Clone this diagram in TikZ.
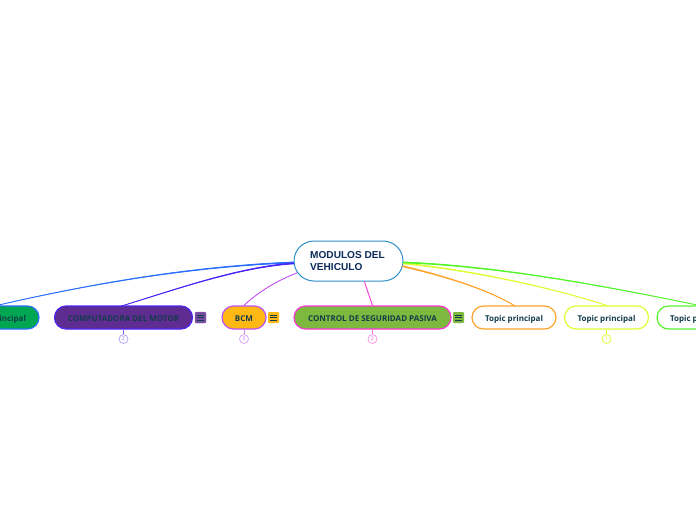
\documentclass[tikz,border=0pt]{standalone}
\usepackage{fontspec}
\setmainfont{Open Sans}
\newfontfamily\hubfont{Liberation Sans}
\usetikzlibrary{shapes.misc,calc}
\definecolor{txt}{HTML}{123C4A}
\definecolor{hubtxt}{HTML}{0B2A5B}
\definecolor{hubline}{HTML}{2E8FCB}
\definecolor{cblue}{HTML}{2A6FFF}
\definecolor{cindigo}{HTML}{4A25F5}
\definecolor{cviolet}{HTML}{C050F5}
\definecolor{cpink}{HTML}{FB35D6}
\definecolor{corange}{HTML}{FFA32B}
\definecolor{cyellow}{HTML}{DDFF33}
\definecolor{cgreen}{HTML}{55F52B}
\definecolor{fgreen}{HTML}{00A651}
\definecolor{fpurple}{HTML}{5F2D91}
\definecolor{famber}{HTML}{FDB813}
\definecolor{folive}{HTML}{7CB93E}
\tikzset{
  x=1pt,y=-1pt,
  hubbox/.style={rounded rectangle,draw=hubline,line width=1pt,fill=white,minimum width=109pt,minimum height=40pt,inner sep=0pt},
  topic/.style={rounded rectangle,line width=1.2pt,minimum height=23pt,inner sep=0pt,text=txt,text height=7.4pt,text depth=0pt,font=\fontsize{8}{9}\selectfont\bfseries},
  conn/.style={line width=.75pt},
  stem/.style={line width=1pt},
  badge/.style={circle,draw,fill=white,line width=.7pt,minimum size=9pt,inner sep=0pt,font=\fontsize{5.5}{6}\selectfont},
  menu/.style={rounded corners=1pt,minimum size=11pt,inner sep=0pt,
    path picture={\foreach \dy in {-2.6,0,2.6}{\draw[txt,line width=.65pt]
      ([xshift=-3.2pt,yshift=\dy pt]path picture bounding box.center)--([xshift=3.2pt,yshift=\dy pt]path picture bounding box.center);}}},
}
\begin{document}
\begin{tikzpicture}
\useasboundingbox (0,0) rectangle (696,520);
\clip (0,0) rectangle (696,520);
\fill[white] (0,0) rectangle (696,520);
\node[hubbox] (hub) at (348.5,261) {};
\node[font=\hubfont\fontsize{10.1}{11.4}\selectfont\bfseries,text=hubtxt,align=left,anchor=west,inner sep=0pt] (hubtext) at (310,261) {MODULOS DEL\\VEHICULO};
\node[topic,draw=cblue,fill=fgreen,minimum width=84pt] (t1) at (-3,317.5) {Topic principal};
\node[topic,draw=cindigo,fill=fpurple,minimum width=138pt] (t2) at (123.5,317.5) {COMPUTADORA DEL MOTOR};
\node[topic,draw=cviolet,fill=famber,minimum width=44pt] (t3) at (244,317.5) {BCM};
\node[topic,draw=cpink,fill=folive,minimum width=157pt] (t4) at (372.5,317.5) {CONTROL DE SEGURIDAD PASIVA};
\node[topic,draw=corange,fill=white,minimum width=84pt] (t5) at (514,317.5) {Topic principal};
\node[topic,draw=cyellow,fill=white,minimum width=84pt] (t6) at (606.5,317.5) {Topic principal};
\node[topic,draw=cgreen,fill=white,minimum width=84pt] (t7) at (699,317.5) {Topic principal};
\node[menu,fill=fpurple!85!white,draw=fpurple!70!white] (m2) at (200.5,317.5) {};
\node[menu,fill=famber] (m3) at (273.5,317.5) {};
\node[menu,fill=folive] (m4) at (458.5,317.5) {};
\node[badge,draw=cindigo!45!white,text=cindigo!60!white] (b2) at (123.5,339) {2};
\node[badge,draw=cviolet!55!white,text=cviolet!70!white] (b3) at (244,339) {3};
\node[badge,draw=cpink!55!white,text=cpink!70!white] (b4) at (372.5,339) {2};
\node[badge,draw=cyellow,text=cyellow] (b6) at (606.5,339) {1};
\filldraw[conn,cblue] (hub.181.5) .. controls (190,266.2) and (90,283.8) .. ([xshift=-.2pt]t1.north) -- ([xshift=.2pt]t1.north) .. controls (90,284.2) and (190,266.8) .. (hub.182.5) -- cycle;
\filldraw[conn,cindigo] (hub.182.5) .. controls (240,266.7) and (180,287.8) .. ([xshift=-.2pt]t2.north) -- ([xshift=.2pt]t2.north) .. controls (180,288.2) and (240,267.3) .. (hub.183.5) -- cycle;
\draw[line width=.9pt,cviolet] (hub.193) .. controls (278,280) and (258,292) .. (t3.north);
\draw[line width=.9pt,cpink] (hub.308) .. controls (367,290) and (370,298) .. (t4.north);
\filldraw[conn,corange] (hub.-5.7) .. controls (440,274.7) and (485,287.8) .. ([xshift=.2pt]t5.north) -- ([xshift=-.2pt]t5.north) .. controls (485,288.2) and (440,275.3) .. (hub.-6.3) -- cycle;
\filldraw[conn,cyellow] (hub.-2.5) .. controls (470,269.7) and (550,286.8) .. ([xshift=.2pt]t6.north) -- ([xshift=-.2pt]t6.north) .. controls (550,287.2) and (470,270.3) .. (hub.-3.5) -- cycle;
\filldraw[conn,cgreen] (hub.-1.5) .. controls (500,265.7) and (610,286.8) .. ([xshift=.2pt]t7.north) -- ([xshift=-.2pt]t7.north) .. controls (610,287.2) and (500,266.3) .. (hub.-2.5) -- cycle;
\draw[stem,cindigo!70!white] (t2.south) -- (b2.north);
\draw[stem,cviolet!70!white] (t3.south) -- (b3.north);
\draw[stem,cpink!70!white] (t4.south) -- (b4.north);
\draw[stem,cyellow] (t6.south) -- (b6.north);
\end{tikzpicture}
\end{document}
